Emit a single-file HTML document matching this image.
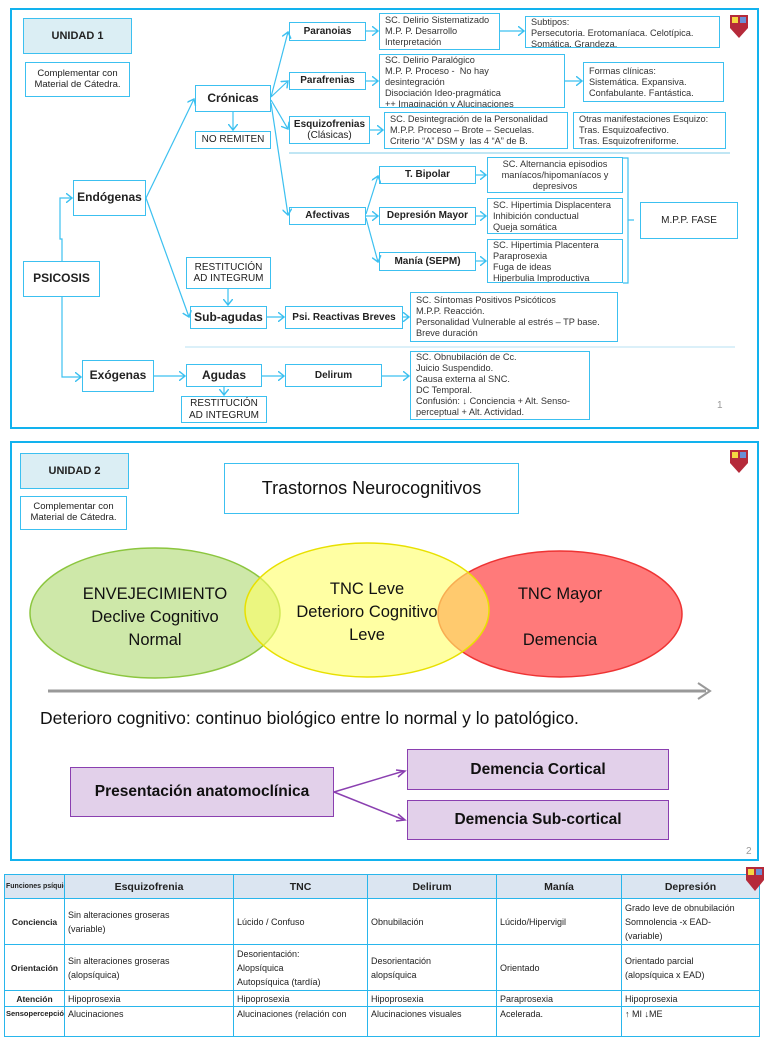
<!DOCTYPE html>
<html><head><meta charset="utf-8"><style>
*{margin:0;padding:0;box-sizing:border-box}
body{width:768px;height:1024px;background:#fff;position:relative;overflow:hidden;font-family:"Liberation Sans",sans-serif;color:#222}
.a{position:absolute}
.b{position:absolute;border:1.5px solid #3cc0f0;background:#fff;display:flex;align-items:center;justify-content:center;text-align:center;font-size:10px;line-height:1.15}
.bold{font-weight:bold}
.sc{position:absolute;border:1.5px solid #3cc0f0;background:#fff;font-size:9.2px;line-height:10.9px;padding:0 5px;color:#333;overflow:hidden;white-space:nowrap}
table{border-collapse:collapse;table-layout:fixed;font-family:"Liberation Sans Narrow","Liberation Sans",sans-serif;font-size:9px;color:#222}
td{border:1px solid #29b6ec;padding:0 3px;line-height:14px;vertical-align:middle;overflow:hidden;white-space:nowrap}
</style></head><body>
<!-- Slide 1 -->
<div class="a" style="left:10px;top:8px;width:749px;height:421px;border:2px solid #12b2ee"></div>
<div class="b bold" style="left:23px;top:18px;width:109px;height:36px;background:#dbeef4;font-size:11px">UNIDAD 1</div>
<div class="b" style="left:25px;top:62px;width:105px;height:35px;font-size:9.5px">Complementar con<br>Material de Cátedra.</div>
<div class="b bold" style="left:195px;top:85px;width:76px;height:27px;font-size:12px">Crónicas</div>
<div class="b" style="left:195px;top:131px;width:76px;height:18px">NO REMITEN</div>
<div class="b bold" style="left:289px;top:22px;width:77px;height:19px">Paranoias</div>
<div class="b bold" style="left:289px;top:72px;width:77px;height:18px">Parafrenias</div>
<div class="b" style="left:289px;top:116px;width:81px;height:28px"><span><b>Esquizofrenias</b><br>(Clásicas)</span></div>
<div class="b bold" style="left:73px;top:180px;width:73px;height:36px;font-size:12px">Endógenas</div>
<div class="b bold" style="left:289px;top:207px;width:77px;height:18px">Afectivas</div>
<div class="b bold" style="left:23px;top:261px;width:77px;height:36px;font-size:12px">PSICOSIS</div>
<div class="b" style="left:186px;top:257px;width:85px;height:32px;font-size:10px">RESTITUCIÓN<br>AD INTEGRUM</div>
<div class="b bold" style="left:190px;top:306px;width:77px;height:23px;font-size:12px">Sub-agudas</div>
<div class="b bold" style="left:285px;top:306px;width:118px;height:23px">Psi. Reactivas Breves</div>
<div class="b bold" style="left:82px;top:360px;width:72px;height:32px;font-size:12px">Exógenas</div>
<div class="b bold" style="left:186px;top:364px;width:76px;height:23px;font-size:12px">Agudas</div>
<div class="b bold" style="left:285px;top:364px;width:97px;height:23px">Delirum</div>
<div class="b" style="left:181px;top:396px;width:86px;height:27px">RESTITUCIÓN<br>AD INTEGRUM</div>
<div class="sc" style="left:379px;top:13px;width:121px;height:37px;padding-top:1px">SC. Delirio Sistematizado<br>M.P. P. Desarrollo<br>Interpretación</div>
<div class="sc" style="left:525px;top:16px;width:195px;height:32px">Subtipos:<br>Persecutoria. Erotomaníaca. Celotípica.<br>Somática. Grandeza.</div>
<div class="sc" style="left:379px;top:54px;width:186px;height:54px">SC. Delirio Paralógico<br>M.P. P. Proceso -&nbsp; No hay<br>desintegración<br>Disociación Ideo-pragmática<br>++ Imaginación y Alucinaciones</div>
<div class="sc" style="left:583px;top:62px;width:141px;height:40px;padding-top:3px">Formas clínicas:<br>Sistemática. Expansiva.<br>Confabulante. Fantástica.</div>
<div class="sc" style="left:384px;top:112px;width:184px;height:37px;padding-top:1px">SC. Desintegración de la Personalidad<br>M.P.P. Proceso – Brote – Secuelas.<br>Criterio “A” DSM y&nbsp; las 4 “A” de B.</div>
<div class="sc" style="left:573px;top:112px;width:153px;height:37px;padding-top:1px">Otras manifestaciones Esquizo:<br>Tras. Esquizoafectivo.<br>Tras. Esquizofreniforme.</div>
<div class="b bold" style="left:379px;top:166px;width:97px;height:18px">T. Bipolar</div>
<div class="b bold" style="left:379px;top:207px;width:97px;height:18px">Depresión Mayor</div>
<div class="b bold" style="left:379px;top:252px;width:97px;height:19px">Manía (SEPM)</div>
<div class="sc" style="left:487px;top:157px;width:136px;height:36px;text-align:center;padding-top:1px">SC. Alternancia episodios<br>maníacos/hipomaníacos y<br>depresivos</div>
<div class="sc" style="left:487px;top:198px;width:136px;height:36px;padding-top:1px">SC. Hipertimia Displacentera<br>Inhibición conductual<br>Queja somática</div>
<div class="sc" style="left:487px;top:239px;width:136px;height:44px">SC. Hipertimia Placentera<br>Paraprosexia<br>Fuga de ideas<br>Hiperbulia Improductiva</div>
<div class="b" style="left:640px;top:202px;width:98px;height:37px">M.P.P. FASE</div>
<div class="sc" style="left:410px;top:292px;width:208px;height:50px;padding-top:2px">SC. Síntomas Positivos Psicóticos<br>M.P.P. Reacción.<br>Personalidad Vulnerable al estrés – TP base.<br>Breve duración</div>
<div class="sc" style="left:410px;top:351px;width:180px;height:69px">SC. Obnubilación de Cc.<br>Juicio Suspendido.<br>Causa externa al SNC.<br>DC Temporal.<br>Confusión: ↓ Conciencia + Alt. Senso-<br>perceptual + Alt. Actividad.</div>
<div class="a" style="left:717px;top:400px;font-size:10px;color:#999">1</div>
<svg class="a" style="left:0;top:0" width="768" height="430">
<defs><marker id="m" markerWidth="6" markerHeight="8" refX="5" refY="4" orient="auto"><path d="M0,0L5,4L0,8" fill="none" stroke="#3cc0f0" stroke-width="1.2"/></marker></defs>
<g stroke="#3cc0f0" stroke-width="1.2" fill="none">
<line x1="289" y1="153" x2="730" y2="153" stroke="#9bd6ee"/>
<line x1="185" y1="347" x2="735" y2="347" stroke="#c5e8f5"/>
<path d="M62,261V239H60V198H72" marker-end="url(#m)"/>
<path d="M62,297V377H81" marker-end="url(#m)"/>
<line x1="146" y1="198" x2="194" y2="99" marker-end="url(#m)"/>
<line x1="146" y1="198" x2="189" y2="317" marker-end="url(#m)"/>
<line x1="233" y1="112" x2="233" y2="130" marker-end="url(#m)"/>
<line x1="228" y1="289" x2="228" y2="305" marker-end="url(#m)"/>
<line x1="271" y1="97" x2="288" y2="32" marker-end="url(#m)"/>
<line x1="271" y1="97" x2="288" y2="81" marker-end="url(#m)"/>
<line x1="271" y1="100" x2="288" y2="129" marker-end="url(#m)"/>
<line x1="271" y1="103" x2="288" y2="215" marker-end="url(#m)"/>
<line x1="366" y1="31" x2="378" y2="31" marker-end="url(#m)"/>
<line x1="366" y1="81" x2="378" y2="81" marker-end="url(#m)"/>
<line x1="370" y1="130" x2="383" y2="130" marker-end="url(#m)"/>
<line x1="500" y1="31" x2="524" y2="31" marker-end="url(#m)"/>
<line x1="565" y1="81" x2="582" y2="81" marker-end="url(#m)"/>
<line x1="366" y1="214" x2="378" y2="176" marker-end="url(#m)"/>
<line x1="366" y1="216" x2="378" y2="216" marker-end="url(#m)"/>
<line x1="366" y1="218" x2="378" y2="262" marker-end="url(#m)"/>
<line x1="476" y1="175" x2="486" y2="175" marker-end="url(#m)"/>
<line x1="476" y1="216" x2="486" y2="216" marker-end="url(#m)"/>
<line x1="476" y1="261" x2="486" y2="261" marker-end="url(#m)"/>
<path d="M623,158H628V283H623M628,220H634"/>
<line x1="267" y1="317" x2="284" y2="317" marker-end="url(#m)"/>
<line x1="403" y1="317" x2="409" y2="317" marker-end="url(#m)"/>
<line x1="154" y1="376" x2="185" y2="376" marker-end="url(#m)"/>
<line x1="262" y1="376" x2="284" y2="376" marker-end="url(#m)"/>
<line x1="382" y1="376" x2="409" y2="376" marker-end="url(#m)"/>
<line x1="224" y1="387" x2="224" y2="395" marker-end="url(#m)"/>
</g>
<path d="M730,15H748V28L739,38L730,28Z" fill="#b52a3a"/><rect x="732" y="17" width="6" height="6" fill="#f5d742"/><rect x="740" y="17" width="6" height="6" fill="#6b8fd6"/>
</svg>
<!-- Slide 2 -->
<div class="a" style="left:10px;top:441px;width:749px;height:420px;border:2px solid #12b2ee"></div>
<div class="b bold" style="left:20px;top:453px;width:109px;height:36px;background:#dbeef4;font-size:11px">UNIDAD 2</div>
<div class="b" style="left:20px;top:496px;width:107px;height:34px;font-size:9.5px">Complementar con<br>Material de Cátedra.</div>
<div class="b" style="left:224px;top:463px;width:295px;height:51px;font-size:18px;color:#111">Trastornos Neurocognitivos</div>
<svg class="a" style="left:0;top:441px" width="768" height="420">
<ellipse cx="155" cy="172" rx="125" ry="65" fill="#c6e49a" fill-opacity=".85" stroke="#8cc63f" stroke-width="1.5"/>
<ellipse cx="560" cy="173" rx="122" ry="63" fill="#ff6b6b" fill-opacity=".9" stroke="#e33" stroke-width="1.5"/>
<ellipse cx="367" cy="169" rx="122" ry="67" fill="#ffff66" fill-opacity=".6" stroke="#e8e000" stroke-width="1.5"/>
<line x1="48" y1="250" x2="706" y2="250" stroke="#999" stroke-width="3"/>
<path d="M698,242L710,250L698,258" fill="none" stroke="#999" stroke-width="2"/>
<g stroke="#8a3fb0" stroke-width="1.5" fill="none"><path d="M334,351L404,330M334,351L404,379"/><path d="M396,329L405,330L398,336M396,380L405,379L398,373"/></g>
<path d="M730,9H748V22L739,32L730,22Z" fill="#b52a3a"/><rect x="732" y="11" width="6" height="6" fill="#f5d742"/><rect x="740" y="11" width="6" height="6" fill="#6b8fd6"/>
</svg>
<div class="a" style="left:35px;top:583px;width:240px;text-align:center;font-size:16.5px;line-height:23px;color:#111">ENVEJECIMIENTO<br>Declive Cognitivo<br>Normal</div>
<div class="a" style="left:287px;top:578px;width:160px;text-align:center;font-size:16.5px;line-height:23px;color:#111">TNC Leve<br>Deterioro Cognitivo<br>Leve</div>
<div class="a" style="left:490px;top:583px;width:140px;text-align:center;font-size:16.5px;line-height:23px;color:#111">TNC Mayor<br><br>Demencia</div>
<div class="a" style="left:40px;top:708px;font-size:17.5px;color:#111">Deterioro cognitivo: continuo biológico entre lo normal y lo patológico.</div>
<div class="b bold" style="left:70px;top:767px;width:264px;height:50px;background:#e2d0ea;border-color:#8a3fb0;font-size:15.5px;color:#111">Presentación anatomoclínica</div>
<div class="b bold" style="left:407px;top:749px;width:262px;height:41px;background:#e2d0ea;border-color:#8a3fb0;font-size:15.5px;color:#111">Demencia Cortical</div>
<div class="b bold" style="left:407px;top:800px;width:262px;height:40px;background:#e2d0ea;border-color:#8a3fb0;font-size:15.5px;color:#111">Demencia Sub-cortical</div>
<div class="a" style="left:746px;top:846px;font-size:10px;color:#999">2</div>
<!-- Slide 3 table -->
<table class="a" style="left:4px;top:874px;width:755px">
<colgroup><col style="width:60px"><col style="width:169px"><col style="width:134px"><col style="width:129px"><col style="width:125px"><col style="width:138px"></colgroup>
<tr style="height:24px;background:#dbe5f1;font-weight:bold;text-align:center;font-size:10.5px"><td style="font-size:7px;padding:0 1px">Funciones psíquicas</td><td>Esquizofrenia</td><td>TNC</td><td>Delirum</td><td>Manía</td><td>Depresión</td></tr>
<tr style="height:46px"><td style="text-align:center;font-weight:bold;font-size:8.5px">Conciencia</td><td>Sin alteraciones groseras<br>(variable)</td><td>Lúcido / Confuso</td><td>Obnubilación</td><td>Lúcido/Hipervigil</td><td>Grado leve de obnubilación<br>Somnolencia -x EAD-<br>(variable)</td></tr>
<tr style="height:46px"><td style="text-align:center;font-weight:bold;font-size:8.5px">Orientación</td><td>Sin alteraciones groseras<br>(alopsíquica)</td><td>Desorientación:<br>Alopsíquica<br>Autopsíquica (tardía)</td><td>Desorientación<br>alopsíquica</td><td>Orientado</td><td>Orientado parcial<br>(alopsíquica x EAD)</td></tr>
<tr style="height:16px"><td style="text-align:center;font-weight:bold;font-size:8.5px">Atención</td><td>Hipoprosexia</td><td>Hipoprosexia</td><td>Hipoprosexia</td><td>Paraprosexia</td><td>Hipoprosexia</td></tr>
<tr style="height:30px"><td style="text-align:center;font-weight:bold;font-size:7.5px;vertical-align:top;padding:0 1px">Sensopercepción</td><td style="vertical-align:top">Alucinaciones</td><td style="vertical-align:top">Alucinaciones (relación con</td><td style="vertical-align:top">Alucinaciones visuales</td><td style="vertical-align:top">Acelerada.</td><td style="vertical-align:top">↑ MI ↓ME</td></tr>
</table>
<svg class="a" style="left:745px;top:866px" width="20" height="26"><path d="M1,1H19V14L10,25L1,14Z" fill="#b52a3a"/><rect x="3" y="3" width="6" height="6" fill="#f5d742"/><rect x="11" y="3" width="6" height="6" fill="#6b8fd6"/></svg>
</body></html>
